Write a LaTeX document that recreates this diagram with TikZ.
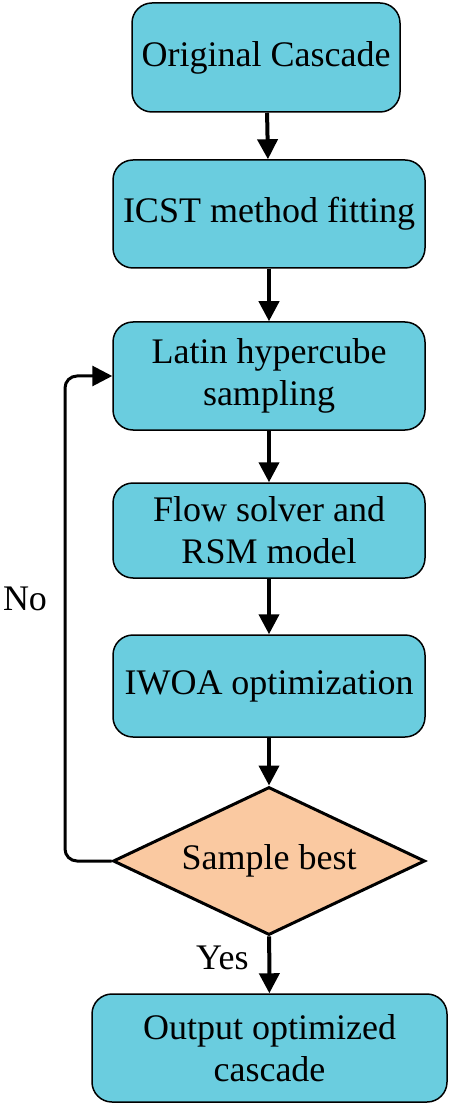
\documentclass[tikz,border=0pt]{standalone}
\usepackage{fontspec}
\setmainfont{Liberation Serif}
\usetikzlibrary{positioning,shapes.geometric,arrows.meta}
\definecolor{procblue}{RGB}{106,205,223}
\definecolor{decorange}{RGB}{250,201,161}
\tikzset{process/.style={
        draw=black,
        line width=0.75pt,
        fill=procblue,
        rounded corners=10pt,
        align=center,
        minimum width=156pt,
        minimum height=54pt,
        inner sep=2pt,
        font=\fontsize{18}{21}\selectfont},
        decision/.style={
            diamond,
            aspect=2.1,
            draw=black,
            line width=1.5pt,
            fill=decorange,
            minimum width=156pt,
            minimum height=74pt,
            inner sep=0pt,
            font=\fontsize{18}{21}\selectfont}
        }
\tikzstyle{arrow} = [line width=2pt,-{Triangle[length=10pt,width=10pt]}]
\tikzstyle{loop}  = [line width=1.5pt,rounded corners=6pt,-{Triangle[length=10pt,width=10pt]}]

\begin{document}
\begin{tikzpicture}[x=0.5pt,y=-0.5pt]
		\useasboundingbox (0,0) rectangle (450,1106);

		\node[process,minimum width=134pt,minimum height=54.5pt] (orig) at (266,57.5) {Original Cascade};
		\node[process] (icst) at (269,214) {ICST method fitting};
		\node[process] (lhs) at (269,376) {Latin hypercube\\sampling};
		\node[process,minimum height=47.5pt] (flow) at (269,530.5) {Flow solver and\\RSM model};
		\node[process,minimum height=51pt] (iwoa) at (269,686) {IWOA optimization};
		\node[decision] (best) at (269,861) {Sample best};
		\node[process,minimum width=177.5pt] (out) at (269.5,1048) {Output optimized\\cascade};

		% main flow
		\draw[arrow] (orig) -- (icst);
		\draw[arrow] (icst) -- (lhs);
		\draw[arrow] (lhs) -- (flow);
		\draw[arrow] (flow) -- (iwoa);
		\draw[arrow] (iwoa) -- (best);
		\draw[arrow] (best) -- node[left,pos=0.38,font=\fontsize{18}{21}\selectfont,xshift=-6pt] (yes) {Yes} (out);

		% back to sampling
		\coordinate (corner) at (65,861);
		\draw[loop] (best.west) -- (corner) |- (lhs.west);
		\node[font=\fontsize{18}{21}\selectfont] (no) at (25,599) {No};
	\end{tikzpicture}
\end{document}
